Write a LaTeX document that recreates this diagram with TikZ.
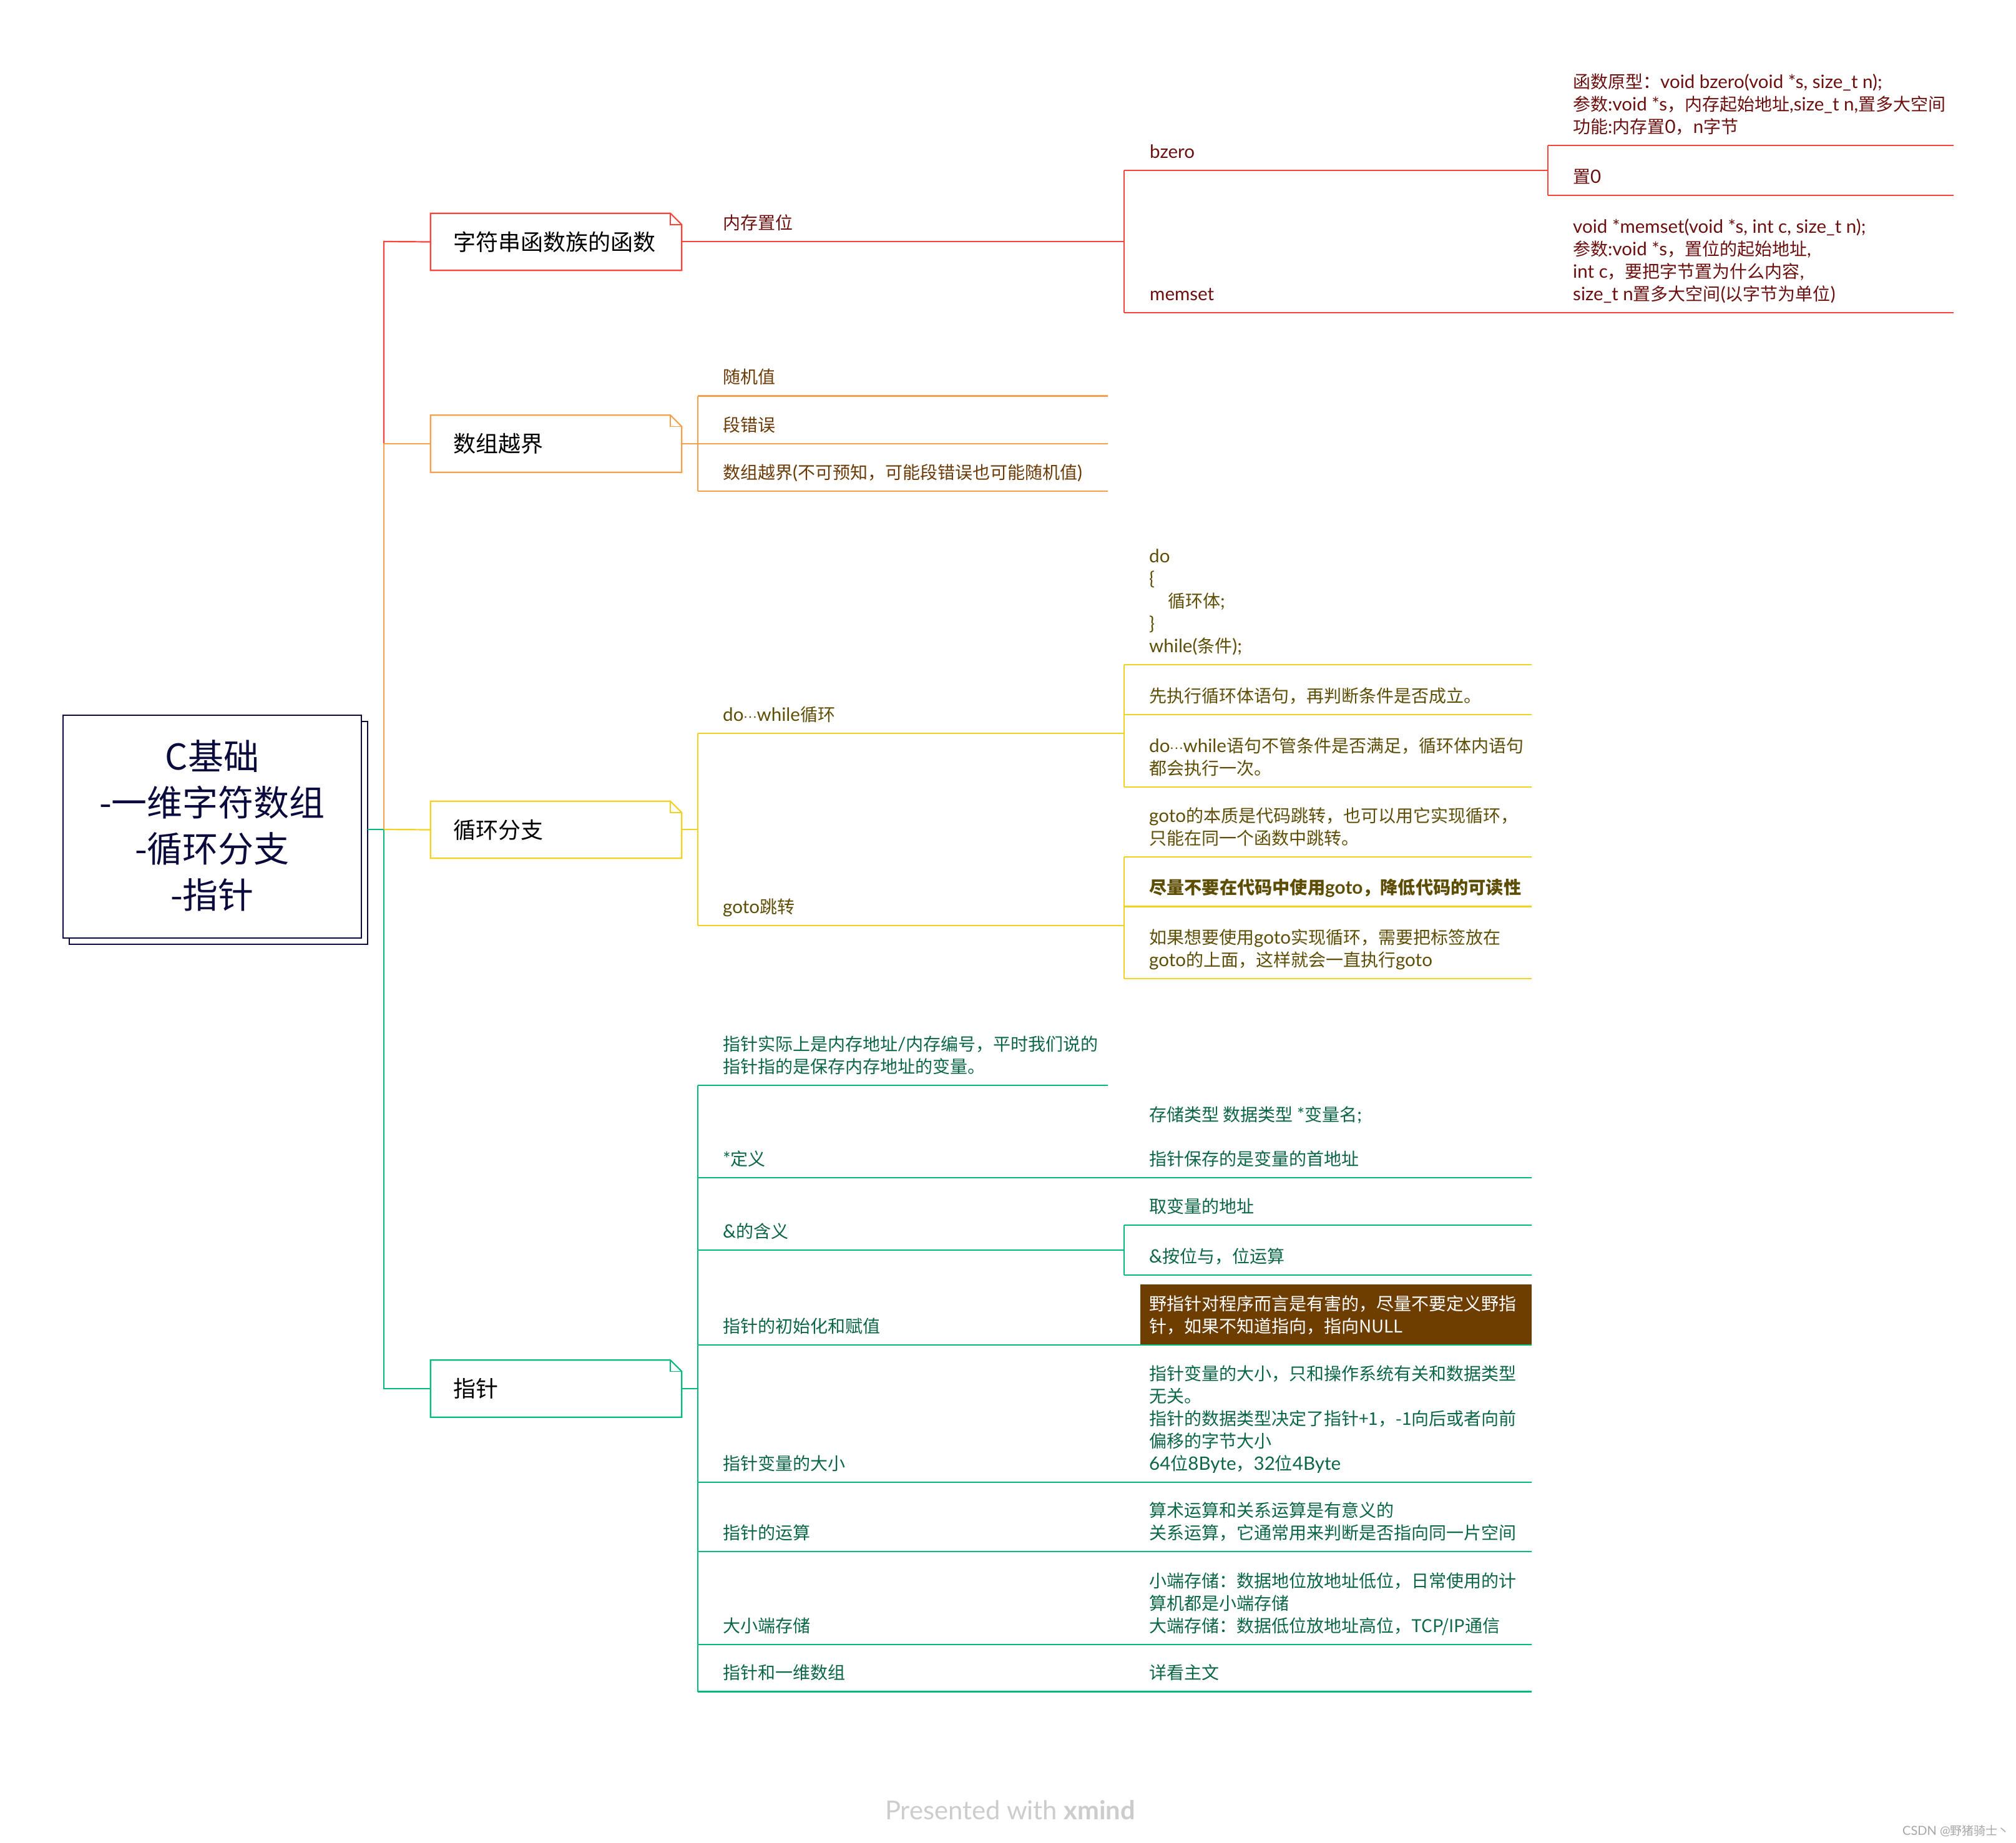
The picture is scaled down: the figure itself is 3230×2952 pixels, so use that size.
\documentclass[tikz,border=0pt]{standalone}
\usepackage{fontspec}
\setmainfont{Noto Sans CJK SC}
\newfontfamily\latfont[Scale=1.055]{Lato}
\usetikzlibrary{calc,shadows}
\definecolor{redln}{HTML}{F9423A}
\definecolor{orangeln}{HTML}{F6A04D}
\definecolor{yellowln}{HTML}{F2D21F}
\definecolor{greenln}{HTML}{00BC7B}
\definecolor{redink}{HTML}{6B0F0F}
\definecolor{orangeink}{HTML}{6B3A07}
\definecolor{yellowink}{HTML}{5E4E05}
\definecolor{greenink}{HTML}{0B6645}
\definecolor{navyink}{HTML}{0A0A3C}
\definecolor{wildfill}{HTML}{6E3D00}
\def\lat#1{{\latfont #1}}
\def\midell{\raisebox{5pt}{\fontsize{20}{20}\selectfont …}}
\def\foldbox[#1](#2){\draw[#1] (#2.north west) -- ($(#2.north east)+(-18,0)$) -- ($(#2.north east)+(0,18)$) -- (#2.south east) -- (#2.south west) -- cycle;
	\draw[#1, line width=1.5pt] ($(#2.north east)+(-18,0)$) -- ($(#2.north east)+(-18,18)$) -- ($(#2.north east)+(0,18)$);}
\def\under[#1](#2)(#3,#4,#5){\coordinate (#2-l) at (#3,#5); \coordinate (#2-r) at (#4,#5); \draw[#1] (#2-l) -- (#2-r);}
\tikzset{
	x=1pt, y=-1pt,
	rl/.style={draw=redln, line width=2.2pt},
	ol/.style={draw=orangeln, line width=2.2pt},
	yl/.style={draw=yellowln, line width=2.2pt},
	gl/.style={draw=greenln, line width=2.2pt},
	lbl/.style={anchor=base west, align=left, inner sep=0pt, yshift=0.5pt, font=\fontsize{28}{36}\selectfont},
	rt/.style={lbl, text=redink},
	ot/.style={lbl, text=orangeink},
	yt/.style={lbl, text=yellowink},
	gt/.style={lbl, text=greenink},
	topic/.style={minimum width=402pt, minimum height=91pt, inner xsep=36pt, inner ysep=0pt, text width=330pt, align=left, font=\fontsize{36}{45}\selectfont},
	rootbox/.style={draw=navyink, fill=white, line width=2.6pt, minimum width=478pt, minimum height=357pt, align=center, text=navyink, font=\fontsize{57}{74}\selectfont, copy shadow={shadow xshift=10pt, shadow yshift=-10pt}},
}
\begin{document}
\begin{tikzpicture}
			\useasboundingbox (0,0) rectangle (3230,2952);
			
			\node[rootbox] (root) at (340,1324.5) {C基础\\-一维字符数组\\-循环分支\\-指针\rule[-8pt]{0pt}{0pt}};
			
			\node[topic] (tmem) at (891,387.5) {字符串函数族的函数};
			\node[topic] (tarr) at (891,711) {数组越界};
			\node[topic] (tloop) at (891,1329.5) {循环分支};
			\node[topic] (tptr) at (891,2225) {指针};
			\foldbox[rl](tmem);
			\foldbox[ol](tarr);
			\foldbox[yl](tloop);
			\foldbox[gl](tptr);
			
			\coordinate (rootout) at (589,1329);
			\coordinate (trunk) at (615,1329);
			\coordinate (trunkm) at (615,387);
			\coordinate (trunka) at (615,711);
			\coordinate (trunkp) at (615,2225);
			\draw[gl] (rootout) -- (trunk);
			\draw[rl] (tmem.west) -- (trunkm) -- (trunka);
			\draw[ol] (tarr.west) -- (trunka) -- (trunk);
			\draw[yl] (tloop.west) -- (trunk);
			\draw[gl] (tptr.west) -- (trunkp) -- (trunk);
			
			% red branch
			\under[rl](lmem)(1092,1801,387);
			\under[rl](lbz)(1801,2480,273);
			\under[rl](lset)(1801,3130,501);
			\under[rl](lbza)(2480,3130,233);
			\under[rl](lbzb)(2480,3130,313);
			\draw[rl] (lbz-l) -- (lset-l);
			\draw[rl] (lbza-l) -- (lbzb-l);
			\node[rt] (nmem) at (1158,367.5) {内存置位};
			\node[rt] (nbz) at (1842,253.5) {\lat{bzero}};
			\node[rt] (nset) at (1842,481.5) {\lat{memset}};
			\node[rt] (nbza) at (2520,213.5) {函数原型：\lat{void bzero(void *s, size\_t n);}\\参数\lat{:void *s}，内存起始地址\lat{,size\_t n,}置多大空间\\功能\lat{:}内存置\lat{0}，\lat{n}字节};
			\node[rt] (nbzb) at (2520,293.5) {置\lat{0}};
			\node[rt] (nseta) at (2520,481.5) {\lat{void *memset(void *s, int c, size\_t n);}\\参数\lat{:void *s}，置位的起始地址\lat{,}\\\lat{int c}，要把字节置为什么内容\lat{,}\\\lat{size\_t n}置多大空间\lat{(}以字节为单位\lat{)}};
			
			% orange branch
			\coordinate (astub) at (1092,711);
			\under[ol](lrnd)(1118,1775,634.5);
			\under[ol](lseg)(1118,1775,711);
			\under[ol](lout)(1118,1775,787);
			\draw[ol] (astub) -- (lseg-l);
			\draw[ol] (lrnd-l) -- (lout-l);
			\node[ot] (nrnd) at (1158,615) {随机值};
			\node[ot] (nseg) at (1158,691.5) {段错误};
			\node[ot] (nout) at (1158,767.5) {数组越界\lat{(}不可预知，可能段错误也可能随机值\lat{)}};
			
			% yellow branch
			\coordinate (ystub) at (1092,1329);
			\coordinate (yjoin) at (1118,1329);
			\under[yl](ldo)(1118,1801,1175);
			\under[yl](lgo)(1118,1801,1483);
			\under[yl](ldoa)(1801,2454,1065);
			\under[yl](ldob)(1801,2454,1145);
			\under[yl](ldoc)(1801,2454,1261);
			\under[yl](lgoa)(1801,2454,1373);
			\under[yl](lgob)(1801,2454,1452.5);
			\under[yl](lgoc)(1801,2454,1568);
			\draw[yl] (ystub) -- (yjoin);
			\draw[yl] (ldo-l) -- (lgo-l);
			\draw[yl] (ldoa-l) -- (ldoc-l);
			\draw[yl] (lgoa-l) -- (lgoc-l);
			\node[yt] (ndo) at (1158,1155.5) {\lat{do}\midell\lat{while}循环};
			\node[yt] (ngo) at (1158,1463.5) {\lat{goto}跳转};
			\node[yt] (ndoa) at (1841,1045.5) {\lat{do}\\\lat{\{}\\\hspace*{30pt}循环体\lat{;}\\\lat{\}}\\\lat{while(}条件\lat{);}};
			\node[yt] (ndob) at (1841,1125.5) {先执行循环体语句，再判断条件是否成立。};
			\node[yt] (ndoc) at (1841,1241.5) {\lat{do}\midell\lat{while}语句不管条件是否满足，循环体内语句\\都会执行一次。};
			\node[yt] (ngoa) at (1841,1353.5) {\lat{goto}的本质是代码跳转，也可以用它实现循环，\\只能在同一个函数中跳转。};
			\node[yt, font=\fontsize{28.2}{36}\selectfont\bfseries] (ngob) at (1841,1433) {尽量不要在代码中使用\lat{goto}，降低代码的可读性};
			\node[yt] (ngoc) at (1841,1548.5) {如果想要使用\lat{goto}实现循环，需要把标签放在\\\lat{goto}的上面，这样就会一直执行\lat{goto}};
			
			% green branch
			\fill[wildfill] (1827,2058) rectangle (2454,2155);
			\coordinate (gstub) at (1092,2225);
			\coordinate (gjoin) at (1118,2225);
			\under[gl](lis)(1118,1775,1739);
			\under[gl](ldef)(1118,2454,1887);
			\under[gl](lamp)(1118,1801,2003);
			\under[gl](lampa)(1801,2454,1963);
			\under[gl](lampb)(1801,2454,2043);
			\under[gl](lini)(1118,2454,2155);
			\under[gl](lsiz)(1118,2454,2375);
			\under[gl](lcal)(1118,2454,2486);
			\under[gl](lend)(1118,2454,2635);
			\under[gl](larr)(1118,2454,2710.5);
			\draw[gl] (gstub) -- (gjoin);
			\draw[gl] (lis-l) -- (larr-l);
			\draw[gl] (lampa-l) -- (lampb-l);
			\node[gt] (nis) at (1158,1719.5) {指针实际上是内存地址\lat{/}内存编号，平时我们说的\\指针指的是保存内存地址的变量。};
			\node[gt] (ndef) at (1158,1867.5) {\lat{*}定义};
			\node[gt] (ndefa) at (1841,1867.5) {存储类型 数据类型 \lat{*}变量名\lat{;}\\[35pt]指针保存的是变量的首地址};
			\node[gt] (namp) at (1158,1983.5) {\lat{\&}的含义};
			\node[gt] (nampa) at (1841,1943.5) {取变量的地址};
			\node[gt] (nampb) at (1841,2023.5) {\lat{\&}按位与，位运算};
			\node[gt] (nini) at (1158,2135.5) {指针的初始化和赋值};
			\node[gt, text=white] (nwild) at (1841,2135.5) {野指针对程序而言是有害的，尽量不要定义野指\\针，如果不知道指向，指向NULL};
			\node[gt] (nsiz) at (1158,2355.5) {指针变量的大小};
			\node[gt] (nsiza) at (1841,2355.5) {指针变量的大小，只和操作系统有关和数据类型\\无关。\\指针的数据类型决定了指针+1，-1向后或者向前\\偏移的字节大小\\\lat{64}位\lat{8Byte}，\lat{32}位\lat{4Byte}};
			\node[gt] (ncal) at (1158,2466.5) {指针的运算};
			\node[gt] (ncala) at (1841,2466.5) {算术运算和关系运算是有意义的\\关系运算，它通常用来判断是否指向同一片空间};
			\node[gt] (nend) at (1158,2615.5) {大小端存储};
			\node[gt] (nenda) at (1841,2615.5) {小端存储：数据地位放地址低位，日常使用的计\\算机都是小端存储\\大端存储：数据低位放地址高位，TCP/IP通信};
			\node[gt] (narr) at (1158,2691) {指针和一维数组};
			\node[gt] (narra) at (1841,2691) {详看主文};
			
			\node[anchor=base west, inner sep=0pt, text=black!20, font=\fontsize{39.5}{41}\selectfont\latfont] (mark) at (1418,2915) {Presented with \textbf{xmind}};
			\node[anchor=base east, inner sep=0pt, text=black!35, font=\fontsize{19}{19}\selectfont] (csdn) at (3220,2940) {\lat{CSDN @}野猪骑士丶};
		\end{tikzpicture}
\end{document}
